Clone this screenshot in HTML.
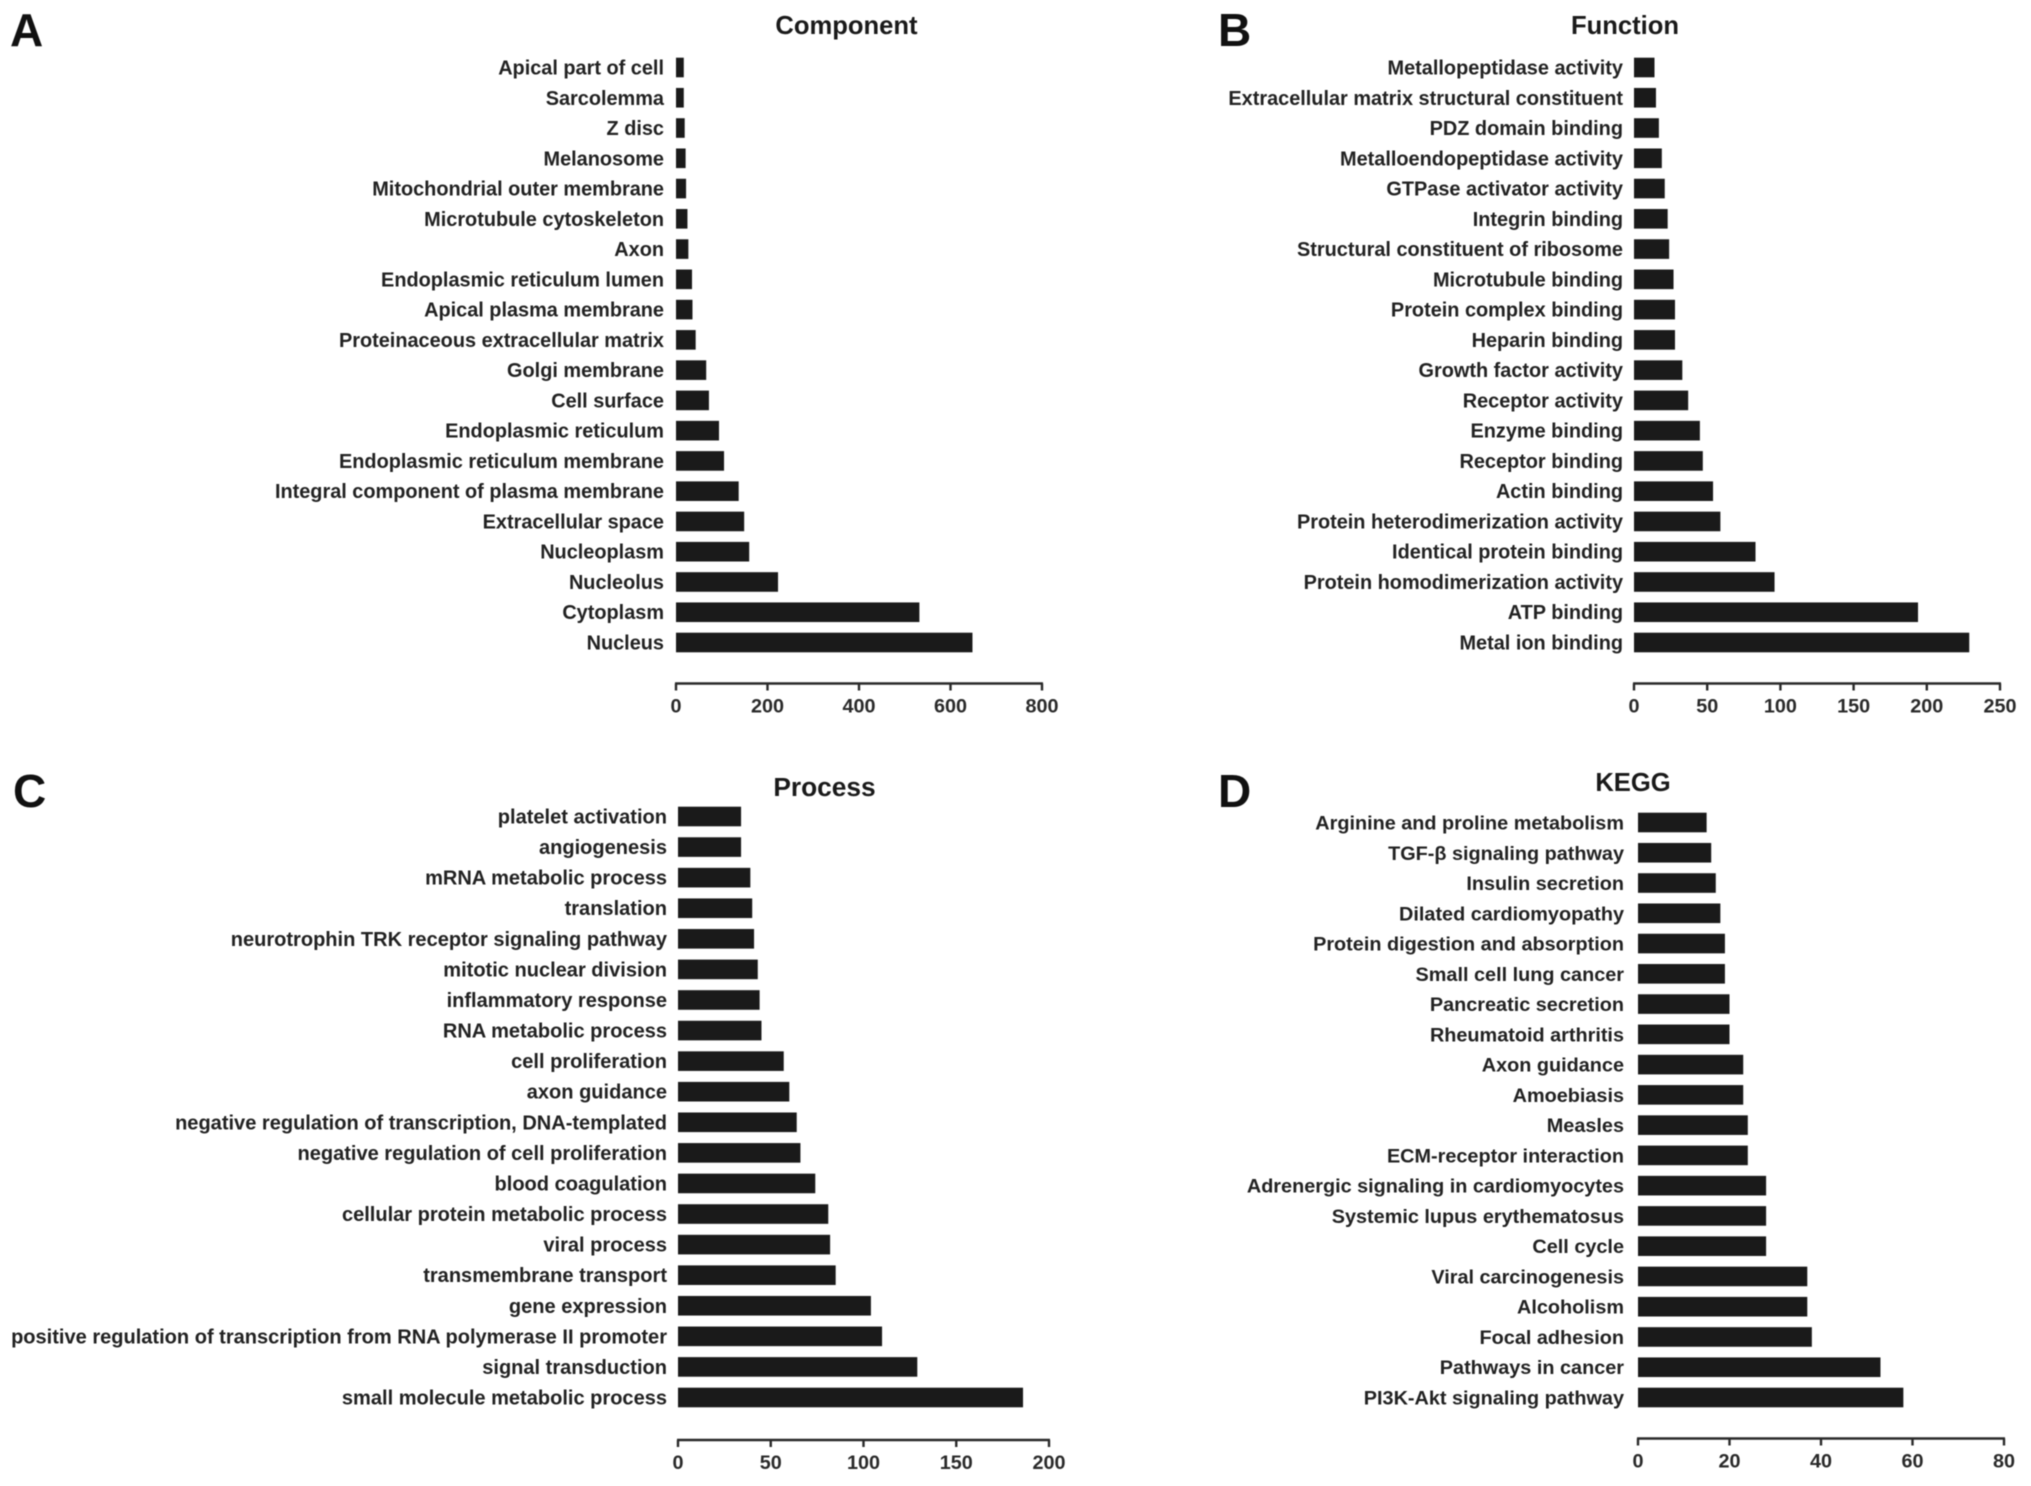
<!DOCTYPE html>
<html lang="en">
<head>
<meta charset="utf-8">
<title>Enrichment bar charts</title>
<style>
html,body{margin:0;padding:0;background:#fff;}
#figure{display:block;width:2031px;height:1486px;font-family:"Liberation Sans",Arial,sans-serif;font-weight:bold;filter:blur(0.55px);}
.lbl{font-size:19.9px;fill:#222;text-anchor:end;}
.tick{font-size:19.8px;fill:#2a2a2a;text-anchor:middle;}
.ttl{font-size:25.6px;fill:#1a1a1a;text-anchor:middle;}
.let{font-size:46px;fill:#111;}
#panel-c .lbl{font-size:20.05px;}
#panel-d .lbl{font-size:19.85px;}
</style>
</head>
<body>
<svg id="figure" xmlns="http://www.w3.org/2000/svg" width="2031" height="1486" viewBox="0 0 2031 1486">
  <rect width="2031" height="1486" fill="#fff"/>
  <text class="let" x="10" y="46">A</text>
  <text class="let" x="1218" y="46">B</text>
  <text class="let" x="13" y="807">C</text>
  <text class="let" x="1218" y="807">D</text>
  <text class="ttl" x="846.5" y="34">Component</text>
  <text class="ttl" x="1625" y="34">Function</text>
  <text class="ttl" x="824.5" y="796" style="font-size:26.3px">Process</text>
  <text class="ttl" x="1633" y="791">KEGG</text>
  <g id="panel-a"></g>
  <g id="panel-b"></g>
  <g id="panel-c"></g>
  <g id="panel-d"></g>
</svg>
<script>
const componentCategories = ["Apical part of cell","Sarcolemma","Z disc","Melanosome","Mitochondrial outer membrane","Microtubule cytoskeleton","Axon","Endoplasmic reticulum lumen","Apical plasma membrane","Proteinaceous extracellular matrix","Golgi membrane","Cell surface","Endoplasmic reticulum","Endoplasmic reticulum membrane","Integral component of plasma membrane","Extracellular space","Nucleoplasm","Nucleolus","Cytoplasm","Nucleus"];
const componentValues = [17,17,19,21,22,25,27,35,36,43,66,72,94,105,137,149,160,223,532,648];
const componentTicks = [0,200,400,600,800];

const functionCategories = ["Metallopeptidase activity","Extracellular matrix structural constituent","PDZ domain binding","Metalloendopeptidase activity","GTPase activator activity","Integrin binding","Structural constituent of ribosome","Microtubule binding","Protein complex binding","Heparin binding","Growth factor activity","Receptor activity","Enzyme binding","Receptor binding","Actin binding","Protein heterodimerization activity","Identical protein binding","Protein homodimerization activity","ATP binding","Metal ion binding"];
const functionValues = [14,15,17,19,21,23,24,27,28,28,33,37,45,47,54,59,83,96,194,229];
const functionTicks = [0,50,100,150,200,250];

const processCategories = ["platelet activation","angiogenesis","mRNA metabolic process","translation","neurotrophin TRK receptor signaling pathway","mitotic nuclear division","inflammatory response","RNA metabolic process","cell proliferation","axon guidance","negative regulation of transcription, DNA-templated","negative regulation of cell proliferation","blood coagulation","cellular protein metabolic process","viral process","transmembrane transport","gene expression","positive regulation of transcription from RNA polymerase II promoter","signal transduction","small molecule metabolic process"];
const processValues = [34,34,39,40,41,43,44,45,57,60,64,66,74,81,82,85,104,110,129,186];
const processTicks = [0,50,100,150,200];

const keggCategories = ["Arginine and proline metabolism","TGF-\u03b2 signaling pathway","Insulin secretion","Dilated cardiomyopathy","Protein digestion and absorption","Small cell lung cancer","Pancreatic secretion","Rheumatoid arthritis","Axon guidance","Amoebiasis","Measles","ECM-receptor interaction","Adrenergic signaling in cardiomyocytes","Systemic lupus erythematosus","Cell cycle","Viral carcinogenesis","Alcoholism","Focal adhesion","Pathways in cancer","PI3K-Akt signaling pathway"];
const keggValues = [15,16,17,18,19,19,20,20,23,23,24,24,28,28,28,37,37,38,53,58];
const keggTicks = [0,20,40,60,80];

const NS = "http://www.w3.org/2000/svg";

function make(parent, tag, attrs) {
  const el = document.createElementNS(NS, tag);
  for (const k in attrs) el.setAttribute(k, attrs[k]);
  parent.appendChild(el);
  return el;
}

function drawPanel(id, cats, vals, ticks, frame) {
  const root = document.getElementById(id);
  const max = ticks[ticks.length - 1];
  const xScale = v => frame.x0 + (v / max) * (frame.x1 - frame.x0);
  const yScale = i => frame.yFirst + i * (frame.yLast - frame.yFirst) / (cats.length - 1);

  cats.forEach((cat, i) => {
    const cy = yScale(i);
    const label = make(root, "text", {class: "lbl", x: frame.labelX, y: cy + 7});
    
    
    label.textContent = cat;

    const bar = make(root, "rect", {x: xScale(0), y: cy - 9.8, width: xScale(vals[i]) - xScale(0), height: 19.6, fill: "#1a1a1a"});
    
    
  });

  const axis = make(root, "line", {x1: xScale(0) - 1, x2: xScale(max) + 1, y1: frame.axisY, y2: frame.axisY, stroke: "#2a2a2a", "stroke-width": 2.4});
  
  

  ticks.forEach(t => {
    const mark = make(root, "line", {x1: xScale(t), x2: xScale(t), y1: frame.axisY, y2: frame.axisY + 7, stroke: "#2a2a2a", "stroke-width": 2.4});
    
    

    const tl = make(root, "text", {class: "tick", x: xScale(t), y: frame.axisY + 29});
    
    
    tl.textContent = t;
  });
}

drawPanel("panel-a", componentCategories, componentValues, componentTicks, {x0: 676, x1: 1042, yFirst: 67.5, yLast: 642.5, axisY: 683.5, labelX: 664});
drawPanel("panel-b", functionCategories, functionValues, functionTicks, {x0: 1634, x1: 2000, yFirst: 67.5, yLast: 642.5, axisY: 683.5, labelX: 1623});
drawPanel("panel-c", processCategories, processValues, processTicks, {x0: 678, x1: 1049, yFirst: 816.5, yLast: 1397.5, axisY: 1440, labelX: 667});
drawPanel("panel-d", keggCategories, keggValues, keggTicks, {x0: 1638, x1: 2004, yFirst: 822.5, yLast: 1397.5, axisY: 1438.5, labelX: 1624});
</script>
</body>
</html>
